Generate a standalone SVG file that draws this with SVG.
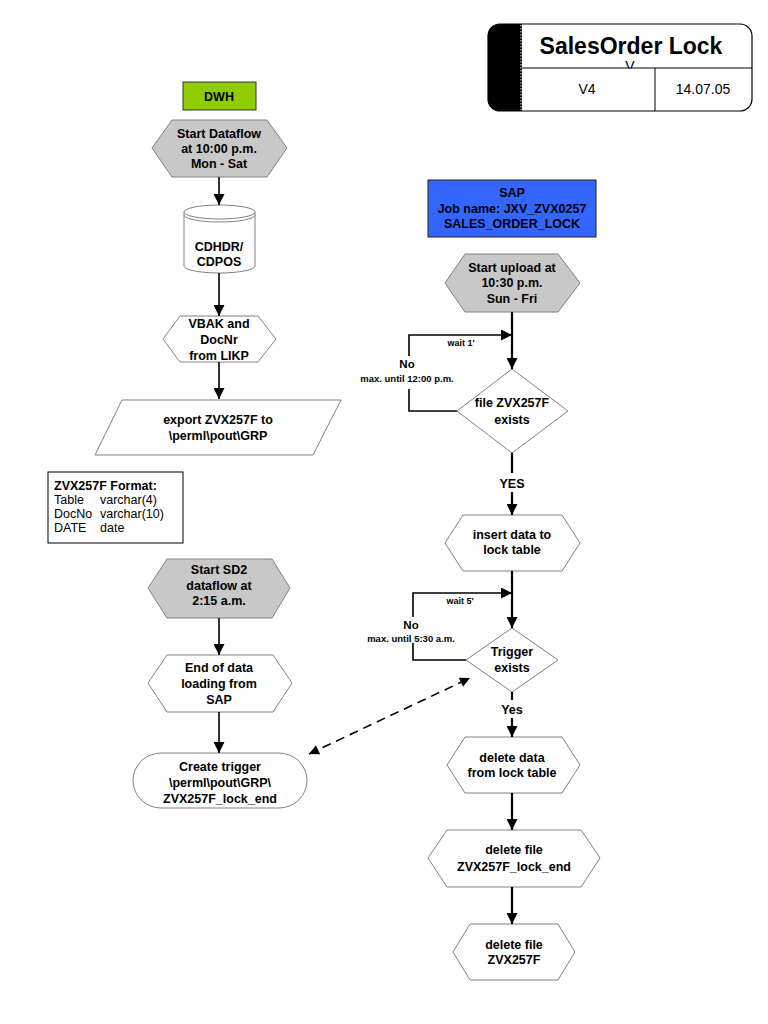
<svg xmlns="http://www.w3.org/2000/svg" width="768" height="1024" viewBox="0 0 768 1024">
<style>
text{font-family:"Liberation Sans",Arial,sans-serif;font-weight:bold;font-size:12.5px;fill:#000;text-anchor:middle}
.n{font-weight:normal}
.sm{font-size:9.5px}
.s8{font-size:9px}
.shape{stroke:#808080;stroke-width:1;fill:#fff}
.gray{fill:#c8c8c8}
.con{stroke:#000;stroke-width:1.6;fill:none}
.thick{stroke-width:2.2}
</style>
<defs>
<marker id="ah" viewBox="0 0 10 10" refX="10" refY="5" markerWidth="11" markerHeight="11" markerUnits="userSpaceOnUse" orient="auto"><path d="M0,0 L10,5 L0,10 z" fill="#000"/></marker>
<marker id="ahL" viewBox="0 0 10 10" refX="10" refY="5" markerWidth="13" markerHeight="10" markerUnits="userSpaceOnUse" orient="auto-start-reverse"><path d="M0,0 L10,5 L0,10 z" fill="#000"/></marker>
</defs>
<rect width="768" height="1024" fill="#fff"/>

<g id="title">
<path d="M500,24 H740 A12,12 0 0 1 752,36 V99 A12,12 0 0 1 740,111 H500 A12,12 0 0 1 488,99 V36 A12,12 0 0 1 500,24 Z" fill="#fff" stroke="#000" stroke-width="1.2"/>
<path d="M500,24 H522 V111 H500 A12,12 0 0 1 488,99 V36 A12,12 0 0 1 500,24 Z" fill="#000"/>
<line x1="521" y1="25" x2="521" y2="110" stroke="#fff" stroke-width="1" stroke-dasharray="1.5,1.5"/>
<text x="631" y="54" style="font-size:23px">SalesOrder Lock</text>
<text x="630" y="71" class="n" style="font-size:14px">V</text>
<rect x="523" y="68.5" width="228" height="10" fill="#fff"/>
<line x1="522" y1="68" x2="752" y2="68" stroke="#000" stroke-width="1"/>
<line x1="655" y1="68" x2="655" y2="111" stroke="#000" stroke-width="1"/>
<text x="587" y="94" class="n" style="font-size:14px">V4</text>
<text x="703" y="94" class="n" style="font-size:14px">14.07.05</text>
</g>

<g id="dwh">
<rect x="183" y="82" width="73" height="28" fill="#8fcc00" stroke="#333" stroke-width="1"/>
<text x="219" y="101">DWH</text>
</g>

<g id="start-dataflow">
<polygon class="shape gray" points="152,148 172,120 267,120 287,148 267,177 172,177"/>
<text x="219" y="138">Start Dataflow</text>
<text x="219" y="153">at 10:00 p.m.</text>
<text x="219" y="168">Mon - Sat</text>
</g>

<g id="cdhdr">
<path class="shape" d="M184,212 V266 A35.5,7 0 0 0 255,266 V212"/>
<ellipse class="shape" cx="219.5" cy="212" rx="35.5" ry="7"/>
<path d="M184,215 A35.5,7 0 0 0 255,215" fill="none" stroke="#808080"/>
<text x="219" y="251">CDHDR/</text>
<text x="219" y="266">CDPOS</text>
</g>

<g id="vbak">
<polygon class="shape" points="163,339 180,316 258,316 276,339 258,362 180,362"/>
<text x="219" y="328">VBAK and</text>
<text x="219" y="344">DocNr</text>
<text x="219" y="360">from LIKP</text>
</g>

<g id="export">
<polygon class="shape" points="122,400 341,400 313,455 95,455"/>
<text x="218" y="424">export ZVX257F to</text>
<text x="218" y="440">\perml\pout\GRP</text>
</g>

<g id="format">
<rect x="48" y="472" width="135" height="71" fill="#fff" stroke="#000" stroke-width="1"/>
<text x="54" y="490" style="text-anchor:start">ZVX257F Format:</text>
<text x="54" y="504" class="n" style="text-anchor:start">Table</text>
<text x="100" y="504" class="n" style="text-anchor:start">varchar(4)</text>
<text x="54" y="518" class="n" style="text-anchor:start">DocNo</text>
<text x="100" y="518" class="n" style="text-anchor:start">varchar(10)</text>
<text x="54" y="532" class="n" style="text-anchor:start">DATE</text>
<text x="100" y="532" class="n" style="text-anchor:start">date</text>
</g>

<g id="start-sd2">
<polygon class="shape gray" points="148,588 167,559 272,559 290,588 272,618 167,618"/>
<text x="219" y="574">Start SD2</text>
<text x="219" y="590">dataflow at</text>
<text x="219" y="605">2:15 a.m.</text>
</g>

<g id="end-of-data">
<polygon class="shape" points="148,683 167,655 273,655 292,683 273,712 167,712"/>
<text x="219" y="672">End of data</text>
<text x="219" y="688">loading from</text>
<text x="219" y="704">SAP</text>
</g>

<g id="create-trigger">
<rect class="shape" x="133" y="753" width="174" height="55" rx="28" ry="27.5"/>
<text x="220" y="771">Create trigger</text>
<text x="220" y="787">\perml\pout\GRP\</text>
<text x="220" y="803">ZVX257F_lock_end</text>
</g>

<g id="sap">
<rect x="428" y="180" width="168" height="57" fill="#3366ff" stroke="#222" stroke-width="1"/>
<text x="512" y="197">SAP</text>
<text x="512" y="213">Job name: JXV_ZVX0257</text>
<text x="512" y="228">SALES_ORDER_LOCK</text>
</g>

<g id="start-upload">
<polygon class="shape gray" points="445,283 465,254 558,254 580,283 558,312 465,312"/>
<text x="512" y="272">Start upload at</text>
<text x="512" y="287">10:30 p.m.</text>
<text x="512" y="303">Sun - Fri</text>
</g>

<g id="file-exists">
<polygon class="shape" points="512,369 568,411 512,453 457,411"/>
<text x="512" y="407">file ZVX257F</text>
<text x="512" y="424">exists</text>
</g>

<g id="insert">
<polygon class="shape" points="445,543 463,515 562,515 580,543 562,571 463,571"/>
<text x="512" y="539">insert data to</text>
<text x="512" y="554">lock table</text>
</g>

<g id="trigger-exists">
<polygon class="shape" points="512,628 558,660 512,692 466,660"/>
<text x="512" y="656">Trigger</text>
<text x="512" y="672">exists</text>
</g>

<g id="delete-data">
<polygon class="shape" points="447,765 465,737 562,737 580,765 562,793 465,793"/>
<text x="512" y="762">delete data</text>
<text x="512" y="777">from lock table</text>
</g>

<g id="delete-lock-end">
<polygon class="shape" points="428,858 447,830 581,830 600,858 581,887 447,887"/>
<text x="514" y="854">delete file</text>
<text x="514" y="871">ZVX257F_lock_end</text>
</g>

<g id="delete-file">
<polygon class="shape" points="453,952 470,924 558,924 575,952 558,980 470,980"/>
<text x="514" y="949">delete file</text>
<text x="514" y="964">ZVX257F</text>
</g>

<g id="connectors">
<line class="con" x1="219" y1="177" x2="219" y2="205" marker-end="url(#ah)"/>
<line class="con" x1="219" y1="273" x2="219" y2="316" marker-end="url(#ah)"/>
<line class="con" x1="219" y1="362" x2="219" y2="399" marker-end="url(#ah)"/>
<line class="con" x1="219" y1="618" x2="219" y2="655" marker-end="url(#ah)"/>
<line class="con" x1="219" y1="712" x2="219" y2="753" marker-end="url(#ah)"/>
<line class="con" x1="309" y1="754" x2="470" y2="678" stroke-dasharray="9,6" marker-start="url(#ahL)" marker-end="url(#ahL)"/>

<line class="con thick" x1="512" y1="312" x2="512" y2="369" marker-end="url(#ah)"/>
<polyline class="con" points="457,411 409,411 409,389"/>
<polyline class="con" points="409,356 409,335 512,335" marker-end="url(#ah)"/>
<text x="461" y="346" class="s8">wait 1'</text>
<text x="407" y="368" style="font-size:11.5px">No</text>
<text x="407" y="382" class="sm">max. until 12:00 p.m.</text>
<line class="con thick" x1="512" y1="453" x2="512" y2="473"/>
<text x="512" y="488">YES</text>
<line class="con thick" x1="512" y1="492" x2="512" y2="515" marker-end="url(#ah)"/>

<line class="con thick" x1="512" y1="571" x2="512" y2="628" marker-end="url(#ah)"/>
<polyline class="con" points="466,660 413,660 413,643"/>
<polyline class="con" points="413,617 413,593 512,593" marker-end="url(#ah)"/>
<text x="460" y="604" class="s8">wait 5'</text>
<text x="411" y="629" style="font-size:11.5px">No</text>
<text x="411" y="642" class="sm">max. until 5:30 a.m.</text>
<line class="con thick" x1="512" y1="692" x2="512" y2="700"/>
<text x="512" y="714">Yes</text>
<line class="con thick" x1="512" y1="718" x2="512" y2="737" marker-end="url(#ah)"/>
<line class="con thick" x1="512" y1="793" x2="512" y2="830" marker-end="url(#ah)"/>
<line class="con thick" x1="512" y1="887" x2="512" y2="924" marker-end="url(#ah)"/>
</g>
</svg>
